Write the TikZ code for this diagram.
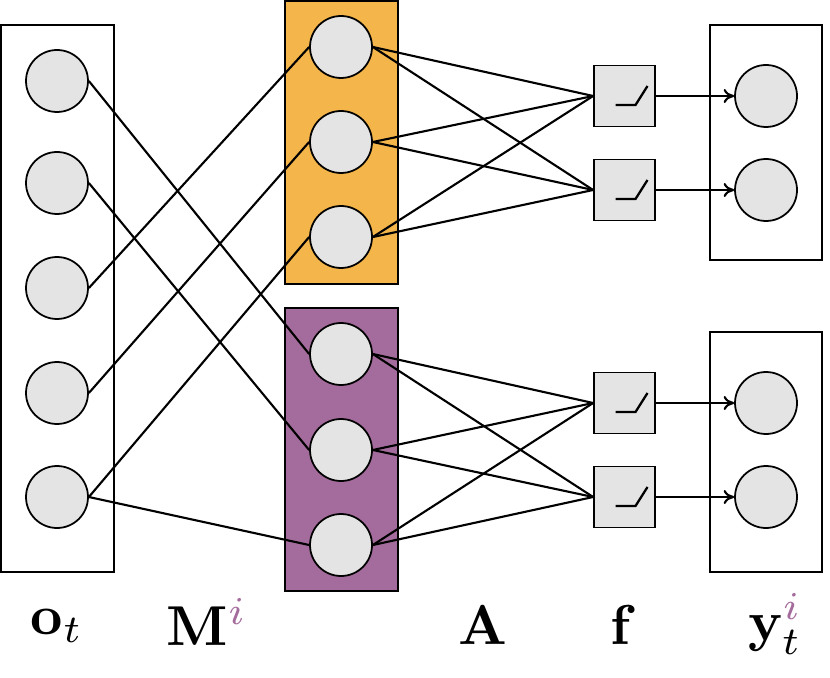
\documentclass[tikz,border=0pt]{standalone}
\usepackage{amsmath}
\usepackage{graphicx}
\usetikzlibrary{arrows.meta}
\definecolor{orng}{HTML}{F4B54A}
\definecolor{purp}{HTML}{A46C9C}
\definecolor{cgray}{HTML}{E4E4E4}
\newcommand{\biglab}[1]{\scalebox{3.2}{#1}}
\begin{document}
\begin{tikzpicture}[x=0.02cm,y=-0.02cm,
  neu/.style={circle,draw,line width=1pt,fill=cgray,minimum size=1.24cm,inner sep=0pt},
  grp/.style={draw,line width=1pt,inner sep=0pt},
  act/.style={draw,line width=1pt,fill=cgray,minimum size=1.22cm,inner sep=0pt},
  con/.style={line width=1.2pt},
  lab/.style={inner sep=0pt}]
\useasboundingbox (0,0) rectangle (830,678);
\node[grp,minimum width=2.26cm,minimum height=10.94cm] (L) at (57.5,298.5) {};
\node[grp,fill=orng,minimum width=2.26cm,minimum height=5.66cm] (O) at (341.5,142.5) {};
\node[grp,fill=purp,minimum width=2.26cm,minimum height=5.66cm] (P) at (341.5,449.5) {};
\node[grp,minimum width=2.24cm,minimum height=4.7cm] (R1) at (766,142.5) {};
\node[grp,minimum width=2.24cm,minimum height=4.8cm] (R2) at (766,452) {};
\foreach \i/\y in {1/81,2/183,3/288,4/393,5/497} \node[neu] (l\i) at (57,\y) {};
\foreach \i/\y in {1/47,2/142,3/237} \node[neu] (o\i) at (341,\y) {};
\foreach \i/\y in {1/354,2/450,3/545} \node[neu] (p\i) at (341,\y) {};
\foreach \i/\y in {1/96,2/190,3/403,4/497} {
  \node[act] (a\i) at (624.5,\y) {};
  \draw[line width=1.3pt] ([shift={(-9,9)}]a\i.center) -- ++(20,0) -- ++(12,-19);
}
\foreach \i/\y in {1/96,2/190,3/403,4/497} \node[neu] (r\i) at (766,\y) {};
\draw[con] (l1.east) -- (p1.west); \draw[con] (l2.east) -- (p2.west);
\draw[con] (l3.east) -- (o1.west); \draw[con] (l4.east) -- (o2.west);
\draw[con] (l5.east) -- (o3.west); \draw[con] (l5.east) -- (p3.west);
\foreach \s in {o1,o2,o3} \foreach \t in {a1,a2} \draw[con] (\s.east) -- (\t.west);
\foreach \s in {p1,p2,p3} \foreach \t in {a3,a4} \draw[con] (\s.east) -- (\t.west);
\foreach \i in {1,2,3,4} \draw[con,-{To[length=6pt,width=8pt]}] (a\i) -- (r\i);
\node[lab] (t1) at (57,626) {\biglab{$\mathbf{o}_t$}};
\node[lab] (t2) at (207,622) {\biglab{$\mathbf{M}^{\textcolor{purp}{i}}$}};
\node[lab] (t3) at (483,625) {\biglab{$\mathbf{A}$}};
\node[lab] (t4) at (623,625) {\biglab{$\mathbf{f}$}};
\node[lab] (t5) at (775,624) {\biglab{$\mathbf{y}_t^{\textcolor{purp}{i}}$}};
\end{tikzpicture}
\end{document}
